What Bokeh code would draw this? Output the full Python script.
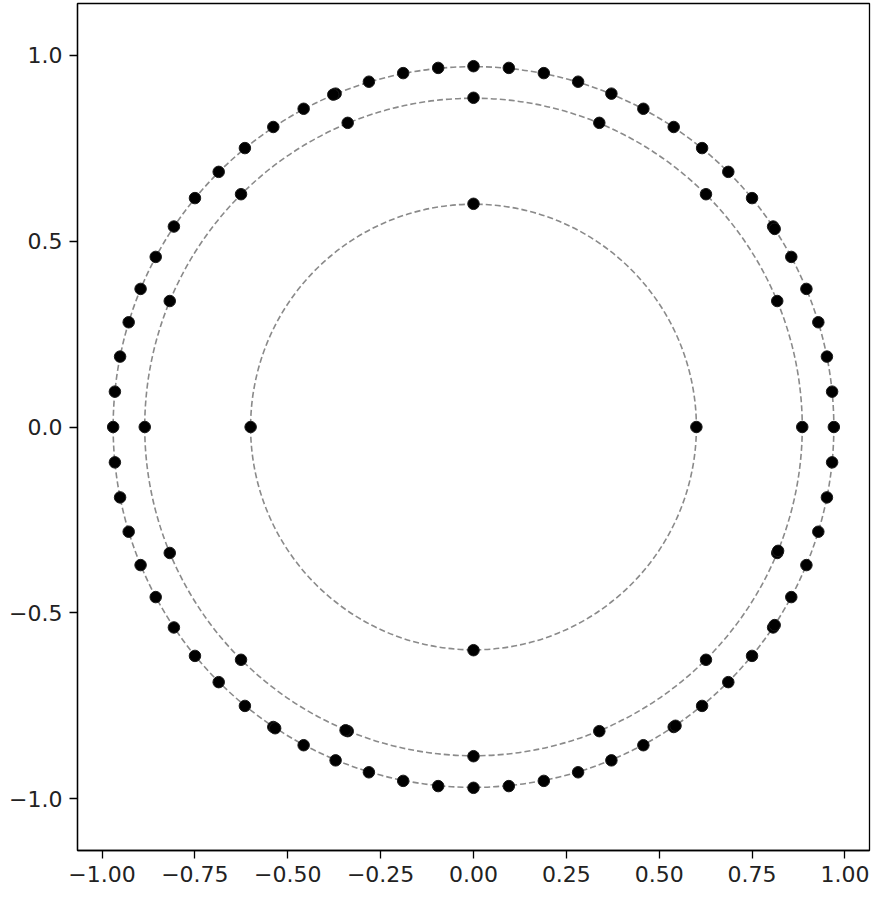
from math import cos, sin, radians
from bokeh.plotting import figure
from bokeh.models import Range1d, FixedTicker
from bokeh.embed import file_html
from bokeh.resources import INLINE

# ---- data ----
ring_radii = [0.6, 0.885, 0.97]

inner_angles = [0, 90, 180, 270]
middle_angles = [0, 22.5, 45, 67.5, 90, 112.5, 135, 157.5,
                 180, 202.5, 225, 247.5, 270, 292.5, 315, 337.5]
outer_angles = [0, 5.625, 11.25, 16.875, 22.5, 28.125, 33.75, 39.375,
                45, 50.625, 56.25, 61.875, 67.5, 73.125, 78.75, 84.375,
                90, 95.625, 101.25, 106.875, 112.5, 118.125, 123.75, 129.375,
                135, 140.625, 146.25, 151.875, 157.5, 163.125, 168.75, 174.375,
                180, 185.625, 191.25, 196.875, 202.5, 208.125, 213.75, 219.375,
                225, 230.625, 236.25, 241.875, 247.5, 253.125, 258.75, 264.375,
                270, 275.625, 281.25, 286.875, 292.5, 298.125, 303.75, 309.375,
                315, 320.625, 326.25, 331.875, 337.5, 343.125, 348.75, 354.375]
# slightly offset duplicate points visible in the picture
outer_extra_angles = [33.3, 112.9, 326.7, 236.6, 304.1]
middle_extra_angles = [337.9, 247.1]

x_ticks = [-1.0, -0.75, -0.5, -0.25, 0.0, 0.25, 0.5, 0.75, 1.0]
x_tick_labels = ["−1.00", "−0.75", "−0.50", "−0.25", "0.00", "0.25", "0.50", "0.75", "1.00"]
y_ticks = [-1.0, -0.5, 0.0, 0.5, 1.0]
y_tick_labels = ["−1.0", "−0.5", "0.0", "0.5", "1.0"]

# ---- build point table ----
pts_r = ([ring_radii[0]] * len(inner_angles) + [ring_radii[1]] * len(middle_angles)
         + [ring_radii[2]] * len(outer_angles) + [ring_radii[2]] * len(outer_extra_angles)
         + [ring_radii[1]] * len(middle_extra_angles))
pts_a = inner_angles + middle_angles + outer_angles + outer_extra_angles + middle_extra_angles
px = [r * cos(radians(a)) for r, a in zip(pts_r, pts_a)]
py = [r * sin(radians(a)) for r, a in zip(pts_r, pts_a)]

p = figure(frame_width=792, frame_height=847,
           x_range=Range1d(-1.066, 1.066), y_range=Range1d(-1.1385, 1.1385),
           output_backend="svg", toolbar_location=None,
           min_border_left=77, min_border_top=3, min_border_right=2, min_border_bottom=40,
           background_fill_color="white", border_fill_color="white")

p.circle(x=[0] * len(ring_radii), y=[0] * len(ring_radii), radius=ring_radii,
         fill_color=None, line_color="#8a8a8a", line_width=1.6, line_dash="6 3")

p.scatter(x=px, y=py, marker="circle", size=11.5,
          fill_color="black", line_color="#1a1a1a", line_width=1)

p.xgrid.visible = False
p.ygrid.visible = False
p.outline_line_color = "black"
p.outline_line_width = 1.3
p.outline_line_alpha = 1.0

for ax, ticks, labels in ((p.xaxis[0], x_ticks, x_tick_labels), (p.yaxis[0], y_ticks, y_tick_labels)):
    ax.ticker = FixedTicker(ticks=ticks)
    ax.major_label_overrides = {t: l for t, l in zip(ticks, labels)}
    ax.minor_tick_line_color = None
    ax.major_tick_in = 0
    ax.major_tick_out = 8
    ax.major_tick_line_color = "black"
    ax.major_tick_line_width = 1.3
    ax.axis_line_color = "black"
    ax.axis_line_width = 1.3
    ax.major_label_text_font = "DejaVu Sans"
    ax.major_label_text_font_size = "22px"
    ax.major_label_text_color = "#222222"
    ax.major_label_standoff = 7

open("out.html", "w").write(file_html(p, INLINE))
